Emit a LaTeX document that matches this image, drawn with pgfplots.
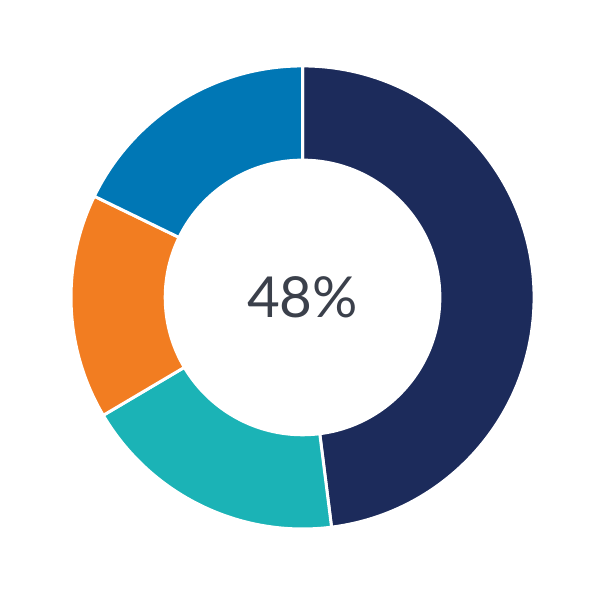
\documentclass[border=0pt]{standalone}
\usepackage{fontspec}
\setmainfont{Lato}
\usepackage{pgfplots}
\usepackage{pgfplotstable}
\pgfplotsset{compat=1.18}

\definecolor{cnavy}{HTML}{1C2B5B}
\definecolor{cteal}{HTML}{1BB3B6}
\definecolor{corange}{HTML}{F27D21}
\definecolor{cblue}{HTML}{0077B5}
\definecolor{ctext}{HTML}{3B404B}

% share of each slice, clockwise from 12 o'clock
\pgfplotstableread{
label  value  col
A      48.0   cnavy
B      18.5   cteal
C      15.7   corange
D      17.8   cblue
}\donut

\begin{document}
% start / end angle of every slice
\def\cum{0}
\pgfplotsforeachungrouped \i in {0,...,3} {%
  \pgfplotstablegetelem{\i}{value}\of\donut
  \let\v\pgfplotsretval
  \pgfmathsetmacro\a{90-3.6*\cum}%
  \pgfmathsetmacro\b{90-3.6*(\cum+\v)}%
  \expandafter\xdef\csname sa\i\endcsname{\a}%
  \expandafter\xdef\csname sb\i\endcsname{\b}%
  \pgfplotstablegetelem{\i}{col}\of\donut
  \expandafter\xdef\csname sc\i\endcsname{\pgfplotsretval}%
  \pgfmathsetmacro\cum{\cum+\v}%
}
\begin{tikzpicture}
\begin{axis}[
    x=1pt, y=1pt,
    xmin=-300, xmax=300,
    ymin=-300, ymax=300,
    hide axis,
    clip=false,
]
  \path (axis cs:-300,-300) rectangle (axis cs:300,300);
  \pgfplotsinvokeforeach{0,...,3}{
    \fill[\csname sc#1\endcsname, draw=white, line width=3pt, line join=round]
      (axis cs:0,0) -- ++(\csname sa#1\endcsname:233.5pt)
      arc[start angle=\csname sa#1\endcsname, end angle=\csname sb#1\endcsname, radius=233.5pt]
      -- cycle;
  }
  % hole
  \fill[white] (axis cs:0,0) circle[radius=140pt];
  \node[text=ctext, font=\fontsize{57}{62}\selectfont] at (axis cs:0,0) {48\%};
\end{axis}
\end{tikzpicture}
\end{document}
